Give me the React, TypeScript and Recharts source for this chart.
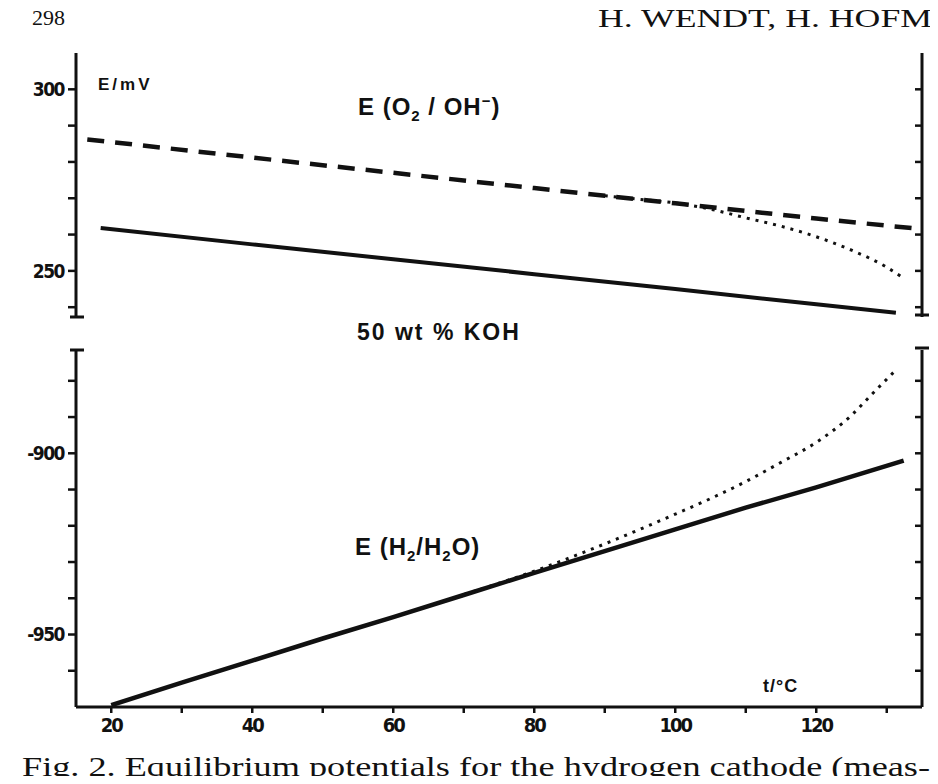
import { LineChart, Line, XAxis, YAxis } from "recharts";

// temperature axis, shared by both panels
const tDomain = [15, 135];
const bottomTicks = [20, 30, 40, 50, 60, 70, 80, 90, 100, 110, 120, 130];
const bottomLabels = [20, 40, 60, 80, 100, 120];
const topTicks = [25, 35, 45, 55, 65, 75, 85, 95, 105, 115, 125];

// upper panel: E(O2/OH-)
const upperDomain = [237.3, 310];
const upperTicks = [240, 250, 260, 270, 280, 290, 300];
const upperLabels = [250, 300];

const o2DashedT = [16.6, 40, 60, 80, 100, 120, 135];
const o2DashedE = [286.2, 281.2, 277.0, 272.8, 268.6, 264.4, 261.5];

const o2SolidT = [18.5, 40, 60, 80, 100, 120, 131.3];
const o2SolidE = [261.8, 257.3, 253.2, 249.1, 245.0, 240.8, 238.5];

const o2DottedT = [90, 95, 100, 105, 110, 115, 120, 125, 130, 132];
const o2DottedE = [270.7, 269.7, 268.7, 267.0, 264.6, 262.3, 259.4, 255.7, 251.0, 248.5];

// lower panel: E(H2/H2O)
const lowerDomain = [-970, -871.5];
const lowerTicks = [-960, -950, -940, -930, -920, -910, -900, -890, -880];
const lowerLabels = [-950, -900];

const h2SolidT = [20, 30, 40, 50, 60, 70, 80, 90, 100, 110, 120, 132.4];
const h2SolidE = [-969.5, -963.3, -957.2, -951.1, -945.2, -939.1, -933.0, -927.0, -921.0, -915.0, -909.4, -902.0];

const h2DottedT = [70, 80, 90, 100, 105, 110, 115, 120, 125, 128, 131.3];
const h2DottedE = [-939.0, -932.5, -925.0, -916.8, -912.5, -907.8, -902.5, -897.0, -889.5, -883.5, -877.0];

const pts = (ts: number[], es: number[]) => ts.map((t, i) => ({ t, e: es[i] }));

const ink = "#111";
const axisLine = { stroke: ink, strokeWidth: 3 };
const tickLine = { stroke: ink, strokeWidth: 2.5 };
const tickFont = {
  fill: ink,
  fontSize: 19,
  fontWeight: 700,
  fontFamily: "'DejaVu Sans Condensed', 'Liberation Sans Narrow', 'DejaVu Sans', sans-serif",
  letterSpacing: -1.5,
};
const labelFont = "'Liberation Sans', Arial, sans-serif";
const serif = "'Liberation Serif', 'Times New Roman', serif";

const only = (keep: number[]) => (v: number) => (keep.includes(v) ? String(v) : "");
const none = () => "";

const lineBase = {
  type: "linear" as const,
  dataKey: "e",
  stroke: ink,
  dot: false,
  isAnimationActive: false,
};

export default function App() {
  return (
    <div
      style={{
        position: "relative",
        width: 938,
        height: 784,
        margin: -8,
        overflow: "hidden",
        background: "#fff",
      }}
    >
      {/* upper panel */}
      <div style={{ position: "absolute", left: 0, top: 0 }}>
        <LineChart width={938} height={320} margin={{ top: 53, right: 16, bottom: 3, left: 0 }}>
          <XAxis
            xAxisId="top"
            orientation="top"
            type="number"
            dataKey="t"
            domain={tDomain}
            ticks={topTicks}
            mirror
            height={0}
            tickSize={6}
            tickFormatter={none}
            axisLine={axisLine}
            tickLine={tickLine}
            allowDataOverflow
          />
          <YAxis
            yAxisId="l"
            type="number"
            domain={upperDomain}
            ticks={upperTicks}
            width={76}
            tickSize={8}
            tickMargin={4}
            tick={tickFont}
            tickFormatter={only(upperLabels)}
            axisLine={axisLine}
            tickLine={tickLine}
            allowDataOverflow
          />
          <YAxis
            yAxisId="r"
            orientation="right"
            type="number"
            domain={upperDomain}
            ticks={upperTicks}
            mirror
            width={16}
            tickSize={7}
            tickFormatter={none}
            axisLine={axisLine}
            tickLine={tickLine}
            allowDataOverflow
          />
          <Line {...lineBase} xAxisId="top" yAxisId="l" data={pts(o2DashedT, o2DashedE)} strokeWidth={4.5} strokeDasharray="17 11" />
          <Line {...lineBase} xAxisId="top" yAxisId="l" data={pts(o2SolidT, o2SolidE)} strokeWidth={4} />
          <Line {...lineBase} type="monotone" xAxisId="top" yAxisId="l" data={pts(o2DottedT, o2DottedE)} strokeWidth={3} strokeDasharray="3 6" />
        </LineChart>
      </div>

      {/* lower panel */}
      <div style={{ position: "absolute", left: 0, top: 330 }}>
        <LineChart width={938} height={440} margin={{ top: 20, right: 16, bottom: 33, left: 0 }}>
          <XAxis
            xAxisId="b"
            type="number"
            dataKey="t"
            domain={tDomain}
            ticks={bottomTicks}
            height={30}
            tickSize={6}
            tickMargin={5}
            tick={{ ...tickFont, fontSize: 20, letterSpacing: -2 }}
            tickFormatter={only(bottomLabels)}
            axisLine={axisLine}
            tickLine={tickLine}
            allowDataOverflow
          />
          <YAxis
            yAxisId="l"
            type="number"
            domain={lowerDomain}
            ticks={lowerTicks}
            width={76}
            tickSize={8}
            tickMargin={4}
            tick={tickFont}
            tickFormatter={only(lowerLabels)}
            axisLine={axisLine}
            tickLine={tickLine}
            allowDataOverflow
          />
          <YAxis
            yAxisId="r"
            orientation="right"
            type="number"
            domain={lowerDomain}
            ticks={lowerTicks}
            mirror
            width={16}
            tickSize={7}
            tickFormatter={none}
            axisLine={axisLine}
            tickLine={tickLine}
            allowDataOverflow
          />
          <Line {...lineBase} xAxisId="b" yAxisId="l" data={pts(h2SolidT, h2SolidE)} strokeWidth={4.5} />
          <Line {...lineBase} type="monotone" xAxisId="b" yAxisId="l" data={pts(h2DottedT, h2DottedE)} strokeWidth={3} strokeDasharray="3 6" />
        </LineChart>
      </div>

      {/* page text, axis break caps and curve labels */}
      <svg width={938} height={784} style={{ position: "absolute", left: 0, top: 0, pointerEvents: "none" }}>
        <text x={32} y={25} fontFamily={serif} fontSize={22} fill={ink}>298</text>
        <text
          x={598}
          y={27}
          fontFamily={serif}
          fontSize={26}
          fill={ink}
          textLength={334}
          lengthAdjust="spacingAndGlyphs"
        >
          H. WENDT, H. HOFM
        </text>

        <g stroke={ink} strokeWidth={3}>
          <line x1={70} x2={84} y1={317} y2={317} />
          <line x1={70} x2={84} y1={350} y2={350} />
          <line x1={915} x2={929} y1={315} y2={315} />
          <line x1={915} x2={929} y1={348} y2={348} />
        </g>

        <g fontFamily={labelFont} fontWeight={700} fill={ink}>
          <text x={98} y={90} fontSize={17} letterSpacing={3}>E/mV</text>
          <text x={358} y={115} fontSize={24} letterSpacing={1}>
            E (O<tspan fontSize={15} dy={6}>2</tspan>
            <tspan dy={-6}> / OH</tspan>
            <tspan fontSize={15} dy={-9}>−</tspan>
            <tspan dy={9}>)</tspan>
          </text>
          <text x={357} y={340} fontSize={23} letterSpacing={2}>50 wt % KOH</text>
          <text x={355} y={555} fontSize={24} letterSpacing={1}>
            E (H<tspan fontSize={15} dy={6}>2</tspan>
            <tspan dy={-6}>/H</tspan>
            <tspan fontSize={15} dy={6}>2</tspan>
            <tspan dy={-6}>O)</tspan>
          </text>
          <text x={763} y={692} fontSize={18} letterSpacing={1}>t/°C</text>
        </g>

        <text
          x={22}
          y={776}
          fontFamily={serif}
          fontSize={28}
          fill={ink}
          textLength={908}
          lengthAdjust="spacingAndGlyphs"
        >
          Fig. 2. Equilibrium potentials for the hydrogen cathode (meas-
        </text>
      </svg>
    </div>
  );
}
